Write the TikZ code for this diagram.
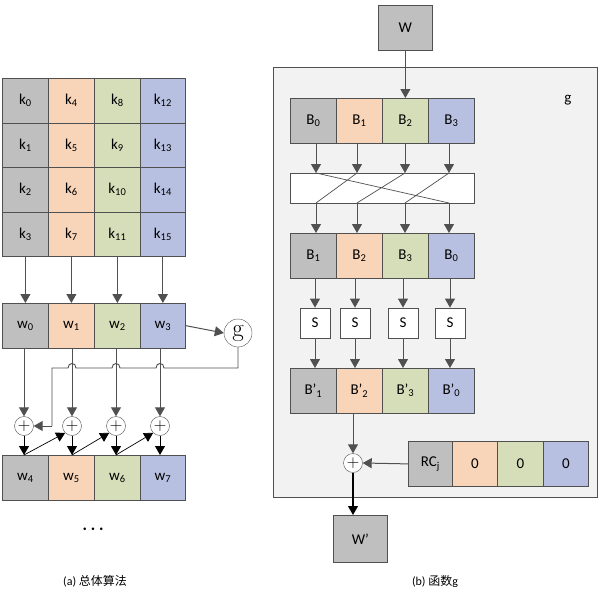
\documentclass[tikz,border=0pt]{standalone}
\usepackage{fontspec}
\setmainfont{Carlito}
\newfontfamily\cjk{Noto Sans CJK SC}
\newfontfamily\lmr{Latin Modern Roman}
\usetikzlibrary{arrows.meta}
\definecolor{cg}{HTML}{BFBFBF}
\definecolor{co}{HTML}{F8D4B8}
\definecolor{cgr}{HTML}{D6DEB9}
\definecolor{cb}{HTML}{B7C0E0}
\definecolor{ln}{HTML}{505050}
\newcommand{\sbs}[1]{\textsubscript{#1}}
\begin{document}
\begin{tikzpicture}[x=1pt,y=-1pt,
  cell/.style={draw=ln,line width=0.8pt,minimum width=46pt,minimum height=44.5pt,inner sep=0pt,font=\fontsize{15}{15}\selectfont,anchor=north west},
  sbox/.style={draw=ln,fill=white,line width=0.8pt,minimum width=30pt,minimum height=30pt,inner sep=0pt,font=\fontsize{15}{15}\selectfont},
  xo/.style={draw=ln,fill=white,circle,minimum size=19pt,inner sep=0pt,font=\fontsize{16}{16}\selectfont},
  ar/.style={draw=ln,line width=1pt,-{Triangle[length=9pt,width=10pt]}},
  arb/.style={draw=black,line width=1pt,-{Triangle[length=9pt,width=10pt]}},
  ln/.style={draw=ln,line width=0.9pt}]
\useasboundingbox (0,0) rectangle (600,597);
% ---------- left ----------
\foreach \a/\b/\c/\d [count=\i from 0] in {0/4/8/12,1/5/9/13,2/6/10/14,3/7/11/15}{
  \node[cell,fill=cg] (k\a) at (2,{78+44.5*\i}) {k\sbs{\a}};
  \node[cell,fill=co] (k\b) at (48,{78+44.5*\i}) {k\sbs{\b}};
  \node[cell,fill=cgr] (k\c) at (94,{78+44.5*\i}) {k\sbs{\c}};
  \node[cell,fill=cb,minimum width=45pt] (k\d) at (140,{78+44.5*\i}) {k\sbs{\d}};
}
\node[cell,fill=cg] (w0) at (2,303) {w\sbs{0}};
\node[cell,fill=co] (w1) at (48,303) {w\sbs{1}};
\node[cell,fill=cgr] (w2) at (94,303) {w\sbs{2}};
\node[cell,fill=cb,minimum width=45pt] (w3) at (140,303) {w\sbs{3}};
\node[cell,fill=cg] (w4) at (2,455) {w\sbs{4}};
\node[cell,fill=co] (w5) at (48,455) {w\sbs{5}};
\node[cell,fill=cgr] (w6) at (94,455) {w\sbs{6}};
\node[cell,fill=cb,minimum width=45pt] (w7) at (140,455) {w\sbs{7}};
\foreach \k/\w in {3/0,7/1,11/2,15/3} \draw[ar] (k\k.south) -- (w\w.north);
\node[draw=ln,circle,fill=white,minimum size=28pt,inner sep=0pt,font=\lmr\fontsize{25}{25}\selectfont] (g) at (238,333) {g};
\draw[ar] (w3.east) -- (g.west);
\foreach \i/\x in {0/24,1/72,2/116,3/160}{
  \node[xo] (x\i) at (\x,426) {$+$};
}
\draw[ar] (w0.south -| x0) -- (x0.north);
\draw[ar] (w1.south -| x1) -- (x1.north);
\draw[ar] (w2.south -| x2) -- (x2.north);
\draw[ar] (w3.south -| x3) -- (x3.north);
\foreach \i/\w in {0/4,1/5,2/6,3/7} \draw[arb] (x\i.south) -- (x\i.south |- w\w.north);
\coordinate (gc) at (52,426);
\draw[ln] (g.south) -- (238,368) -- (164,368) .. controls (164,362) and (156,362) .. (156,368)
  -- (120,368) .. controls (120,362) and (112,362) .. (112,368)
  -- (76,368) .. controls (76,362) and (68,362) .. (68,368) -- (52,368) -- (gc);
\draw[ar] (gc) -- (x0.east);
\draw[arb,line width=0.7pt] (w4.north -| x0) -- (x1.south west);
\draw[arb,line width=0.7pt] (w5.north -| x1) -- (x2.south west);
\draw[arb,line width=0.7pt] (w6.north -| x2) -- (x3.south west);
\node[font=\fontsize{36}{36}\selectfont\bfseries] (dots) at (93,530) {$\cdot\!\cdot\!\cdot$};
\node[font=\fontsize{12}{12}\selectfont] (ca) at (95,581) {(a) {\cjk 总体算法}};
% ---------- right ----------
\node[draw=ln,fill=black!5,line width=0.8pt,minimum width=324pt,minimum height=430pt,anchor=north west,inner sep=0pt] (panel) at (273,67) {};
\node[font=\fontsize{15}{15}\selectfont] (glab) at (568,100) {g};
\node[cell,fill=cg,minimum width=54pt,minimum height=45pt] (W) at (378,5) {W};
\node[cell,fill=cg] (a0) at (290,98) {B\sbs{0}};
\node[cell,fill=co] (a1) at (336,98) {B\sbs{1}};
\node[cell,fill=cgr] (a2) at (382,98) {B\sbs{2}};
\node[cell,fill=cb] (a3) at (428,98) {B\sbs{3}};
\draw[ar] (W.south) -- (a2.north -| W.south);
\node[draw=ln,fill=white,line width=0.8pt,minimum width=184pt,minimum height=30pt,anchor=north west,inner sep=0pt] (perm) at (290,173) {};
\node[cell,fill=cg] (b0) at (290,233) {B\sbs{1}};
\node[cell,fill=co] (b1) at (336,233) {B\sbs{2}};
\node[cell,fill=cgr] (b2) at (382,233) {B\sbs{3}};
\node[cell,fill=cb] (b3) at (428,233) {B\sbs{0}};
\foreach \i/\x in {0/316,1/357,2/405,3/449}{
  \coordinate (pt\i) at (\x,173);
  \coordinate (pb\i) at (\x,203);
  \draw[ar] (a\i.south -| pt\i) -- (pt\i);
  \draw[ar] (pb\i) -- (b\i.north -| pb\i);
}
\draw[ln,line width=0.7pt] (pt0) -- (pb3) (pt1) -- (pb0) (pt2) -- (pb1) (pt3) -- (pb2);
\foreach \i/\x in {0/315,1/355,2/403,3/450}{
  \node[sbox] (s\i) at (\x,323) {S};
  \draw[ar] (b\i.south -| s\i) -- (s\i.north);
}
\node[cell,fill=cg] (c0) at (290,368) {B\textquoteright\sbs{1}};
\node[cell,fill=co] (c1) at (336,368) {B\textquoteright\sbs{2}};
\node[cell,fill=cgr] (c2) at (382,368) {B\textquoteright\sbs{3}};
\node[cell,fill=cb] (c3) at (428,368) {B\textquoteright\sbs{0}};
\foreach \i in {0,...,3} \draw[ar] (s\i.south) -- (c\i.north -| s\i);
\node[cell,fill=cg,minimum width=44pt,minimum height=45pt] (r0) at (408,441) {RC\sbs{j}};
\node[cell,fill=co,minimum width=45pt,minimum height=45pt] (r1) at (452,441) {0};
\node[cell,fill=cgr,minimum width=46pt,minimum height=45pt] (r2) at (497,441) {0};
\node[cell,fill=cb,minimum width=45pt,minimum height=45pt] (r3) at (543,441) {0};
\node[xo] (xr) at (353,463) {$+$};
\draw[ar] (c1.south -| xr) -- (xr.north);
\draw[ar] (r0.west) -- (xr.east);
\node[cell,fill=cg,minimum width=54pt,minimum height=47pt] (Wp) at (333,515) {W\textquoteright};
\draw[arb,line width=1.3pt] (xr.south) -- (Wp.north -| xr);
\node[font=\fontsize{12}{12}\selectfont] (cb) at (435,581) {(b) {\cjk 函数}g};
\end{tikzpicture}
\end{document}
